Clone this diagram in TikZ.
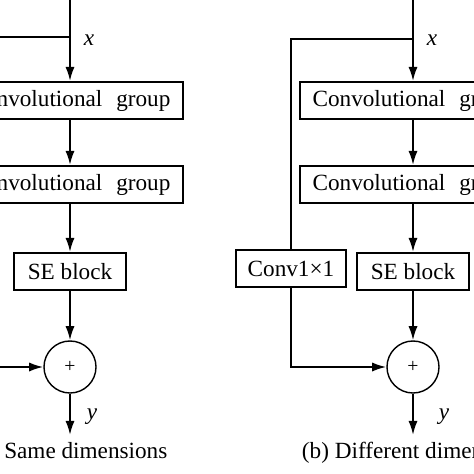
\documentclass[tikz,border=0pt]{standalone}
\usepackage{fontspec}
\setmainfont{Liberation Serif}
\usetikzlibrary{positioning, calc, arrows.meta}

\begin{document}
\begin{tikzpicture}[x=0.025cm, y=-0.025cm,
    font=\fontsize{16.5}{20}\selectfont,
    box/.style={draw, line width=1.4pt, minimum height=0.925cm, inner sep=0pt},
    convbox/.style={box, minimum width=5.65cm},
    sebox/.style={box, minimum width=2.8cm},
    sumnode/.style={draw, circle, line width=1pt, minimum size=1.3cm, inner sep=0pt},
    link/.style={line width=1.4pt},
    flow/.style={link, -{Latex[length=10pt, width=6.5pt]}}]
    \useasboundingbox (0,0) rectangle (474,474);
    \clip (0,0) rectangle (474,474);

    % (a) same dimensions
    \coordinate (ina) at (70,-20);
    \coordinate (xa) at (70,37);
    \coordinate (sca) at (-40,37);
    \node[convbox] (conv1a) at (70,100.5) {Convolutional\hspace{0.6em}group};
    \node[convbox, below=1.125cm of conv1a] (conv2a) {Convolutional\hspace{0.6em}group};
    \node[sebox, below=1.2cm of conv2a] (sea) {SE block};
    \node[sumnode] (suma) at (70,367) {\fontsize{14}{14}\selectfont +};
    \coordinate (ska) at (-40,367);
    \coordinate (outa) at (70,435);
    \node[anchor=west] (xlaba) at (79,40) {\textit{x}};
    \node[anchor=west] (ylaba) at (82,417) {\textit{y}};
    \node (capa) at (70,453) {(a) Same dimensions};

    \draw[flow] (ina) -- (conv1a);
    \draw[link] (xa) -- (sca);
    \draw[flow] (conv1a) -- (conv2a);
    \draw[flow] (conv2a) -- (sea);
    \draw[flow] (sea) -- (suma);
    \draw[flow] (ska) -- (suma);
    \draw[flow] (suma) -- (outa);

    % (b) different dimensions
    \coordinate (inb) at (413,-20);
    \coordinate (xb) at (413,39);
    \node[convbox] (conv1b) at (413,100.5) {Convolutional\hspace{0.6em}group};
    \node[convbox, below=1.125cm of conv1b] (conv2b) {Convolutional\hspace{0.6em}group};
    \node[sebox, below=1.2cm of conv2b] (seb) {SE block};
    \node[box, minimum width=2.75cm] (convb) at (291,268.5) {Conv1×1};
    \node[sumnode] (sumb) at (413,367) {\fontsize{14}{14}\selectfont +};
    \coordinate (outb) at (413,435);
    \node[anchor=west] (xlabb) at (422,40) {\textit{x}};
    \node[anchor=west] (ylabb) at (434,417) {\textit{y}};
    \node[anchor=west] (capb) at (297,453) {(b) Different dimensions};

    \draw[flow] (inb) -- (conv1b);
    \draw[flow] (conv1b) -- (conv2b);
    \draw[flow] (conv2b) -- (seb);
    \draw[flow] (seb) -- (sumb);
    \draw[link] (xb) -| (convb);
    \draw[flow] (convb) |- (sumb);
    \draw[flow] (sumb) -- (outb);
\end{tikzpicture}
\end{document}
